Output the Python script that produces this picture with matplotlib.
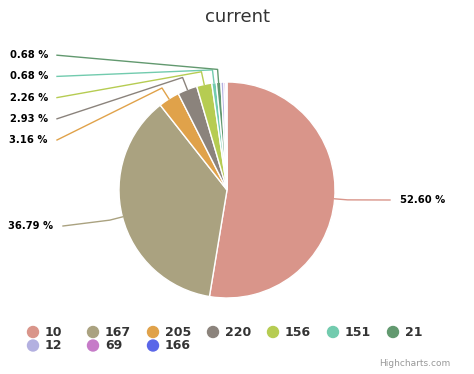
import numpy as np
import matplotlib
matplotlib.use('Agg')
import matplotlib.pyplot as plt
from matplotlib.patches import Circle

plt.rcParams['font.family'] = ['DejaVu Sans']

# 数据
categories = ['10', '167', '205', '220', '156', '151', '21', '12', '69', '166']
values = [52.60, 36.79, 3.16, 2.93, 2.26, 0.68, 0.68, 0.45, 0.25, 0.20]
colors = ['#d9958a', '#aaa280', '#e0a24a', '#8b837c', '#b6cc52',
          '#72cbae', '#62996f', '#b3b0e0', '#c67bc8', '#5a66e8']
title = 'current'
n_labeled = 7  # 只有前7个扇区显示数据标签

W, H = 474, 374
cx, cy, R = 227, 190, 108  # 像素坐标(从上往下)

fig = plt.figure(figsize=(W / 100, H / 100), dpi=100)
ax = fig.add_axes([0, 0, 1, 1])

def px(x, y):
    # 像素坐标 -> 数据坐标(半径=1)
    return (x - cx) / R, (cy - y) / R

ax.pie(values, colors=colors, startangle=90, counterclock=False,
       radius=1, wedgeprops=dict(edgecolor='white', linewidth=1))
x0, y1 = px(0, 0)
x1, y0 = px(W, H)
ax.set_xlim(x0, x1)
ax.set_ylim(y0, y1)
ax.set_aspect('equal')
ax.axis('off')

# 数据标签和连接线
total = sum(values)
cum = np.cumsum([0] + values[:-1])
for i in range(n_labeled):
    frac = (cum[i] + values[i] / 2) / total
    ang = 2 * np.pi * frac  # 从顶部顺时针
    dx, dy = np.sin(ang), np.cos(ang)
    edge = (dx * 1.0, dy * 1.0)
    outer = (dx * 1.12, dy * 1.12)
    txt = '%.2f %%' % (values[i] / total * 100)
    if dx > 0:
        lx, ly = px(390, 200)
        tx, _ = px(400, 0)
        ha = 'left'
    elif i == 1:
        lx, ly = px(63, 226)
        tx, _ = px(53, 0)
        ha = 'right'
    else:
        ypix = 141 - 21.2 * (i - 2)
        lx, ly = px(57, ypix - 1)
        tx, _ = px(48, 0)
        ha = 'right'
    ax.plot([lx, outer[0], edge[0]], [ly, outer[1], edge[1]],
            color=colors[i], lw=1, solid_joinstyle='round')
    ax.text(tx, ly, txt, ha=ha, va='center', fontsize=7.2,
            fontweight='bold', color='#000000')

# 标题
fig.text(0.5, 1 - 17 / H, title, ha='center', va='center',
         fontsize=13, color='#333333')

# 图例
for k, name in enumerate(categories):
    row, col = divmod(k, 7)
    mx = 33 + 60 * col
    my = 332 + 13.5 * row
    ax.add_patch(Circle(px(mx, my), 5.5 / R, color=colors[k], clip_on=False))
    fig.text((mx + 12) / W, 1 - my / H, name, ha='left', va='center',
             fontsize=9, fontweight='bold', color='#333333')

fig.text(450 / W, 1 - 364 / H, 'Highcharts.com', ha='right', va='center',
         fontsize=6.5, color='#999999')

plt.savefig('out.png', dpi=100)
